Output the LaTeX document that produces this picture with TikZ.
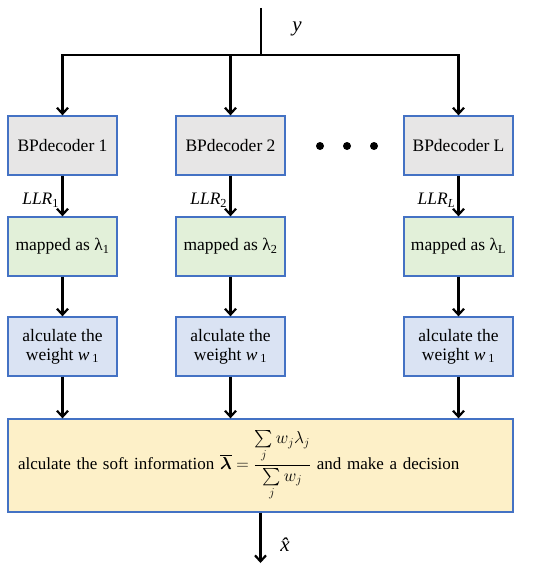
\documentclass[tikz,border=0pt]{standalone}
\usepackage{amsmath,amsbsy}
\usepackage{fontspec}
\setmainfont{Liberation Serif}
\usetikzlibrary{arrows.meta}
\definecolor{boxline}{HTML}{4472C4}
\definecolor{bpfill}{HTML}{E7E6E6}
\definecolor{mapfill}{HTML}{E2F0D9}
\definecolor{wfill}{HTML}{DAE3F3}
\definecolor{softfill}{HTML}{FDF0C8}
\begin{document}
\begin{tikzpicture}[x=1pt,y=-1pt,
	font=\fontsize{17.5}{19}\selectfont,
	blk/.style={draw=boxline, line width=1.3pt, minimum width=109pt, minimum height=59pt, align=center, inner sep=2pt},
	arr/.style={line width=2.2pt, -{Straight Barb[length=6pt,width=11pt]}},
	varlab/.style={font=\fontsize{21}{23}\selectfont\itshape}]
	\useasboundingbox (0,0) rectangle (550,575);

	\coordinate (top) at (261,8);
	\coordinate (split) at (261,55);
	\coordinate (out) at (260.5,563);

	\node[blk, fill=bpfill] (bp1) at (62.5,145.5) {BPdecoder 1};
	\node[blk, fill=bpfill] (bp2) at (230.5,145.5) {BPdecoder 2};
	\node[blk, fill=bpfill] (bpL) at (458.5,145.5) {BPdecoder L};

	\node[blk, fill=mapfill] (map1) at (62.5,246.5) {mapped as λ\textsubscript{1}};
	\node[blk, fill=mapfill] (map2) at (230.5,246.5) {mapped as λ\textsubscript{2}};
	\node[blk, fill=mapfill] (mapL) at (458.5,246.5) {mapped as λ\textsubscript{L}};

	\node[blk, fill=wfill] (w1) at (62.5,346.5) {alculate the\\weight \textit{w}\,\textsubscript{1}};
	\node[blk, fill=wfill] (w2) at (230.5,346.5) {alculate the\\weight \textit{w}\,\textsubscript{1}};
	\node[blk, fill=wfill] (wL) at (458.5,346.5) {alculate the\\weight \textit{w}\,\textsubscript{1}};

	\node[draw=boxline, line width=1.3pt, fill=softfill, minimum width=505pt, minimum height=93pt,
		text width=485pt, inner xsep=10pt, align=left, font=\fontsize{17}{19}\selectfont] (soft) at (260.5,465.5)
		{alculate the soft information $\displaystyle\overline{\boldsymbol{\lambda}}=\frac{\sum\limits_j w_j\lambda_j}{\sum\limits_j w_j}$ and make a decision};

	% input y
	\draw[line width=2.2pt] (top) -- (split);
	\node[varlab] (ylab) at (297,29) {y};
	\draw[arr] (split) -| (bp1);
	\draw[arr] (split) -| (bpL);
	\draw[arr] (split -| bp2) -- (bp2);

	% dots
	\foreach \x in {320,347,374}
		\fill (\x,146) circle (4pt);

	% LLR
	\draw[arr] (bp1) -- (map1) node[pos=0.6, left=-1pt] (llr1) {\textit{LLR}\textsubscript{1}};
	\draw[arr] (bp2) -- (map2) node[pos=0.6, left=-1pt] (llr2) {\textit{LLR}\textsubscript{2}};
	\draw[arr] (bpL) -- (mapL) node[pos=0.6, left=-1pt] (llrL) {\textit{LLR}\textsubscript{\textit{L}}};

	\draw[arr] (map1) -- (w1);
	\draw[arr] (map2) -- (w2);
	\draw[arr] (mapL) -- (wL);

	\draw[arr] (w1) -- (w1 |- soft.north);
	\draw[arr] (w2) -- (w2 |- soft.north);
	\draw[arr] (wL) -- (wL |- soft.north);

	% output
	\draw[arr] (soft) -- (out);
	\node[varlab] (xlab) at (285,545) {\^{x}};
\end{tikzpicture}
\end{document}
